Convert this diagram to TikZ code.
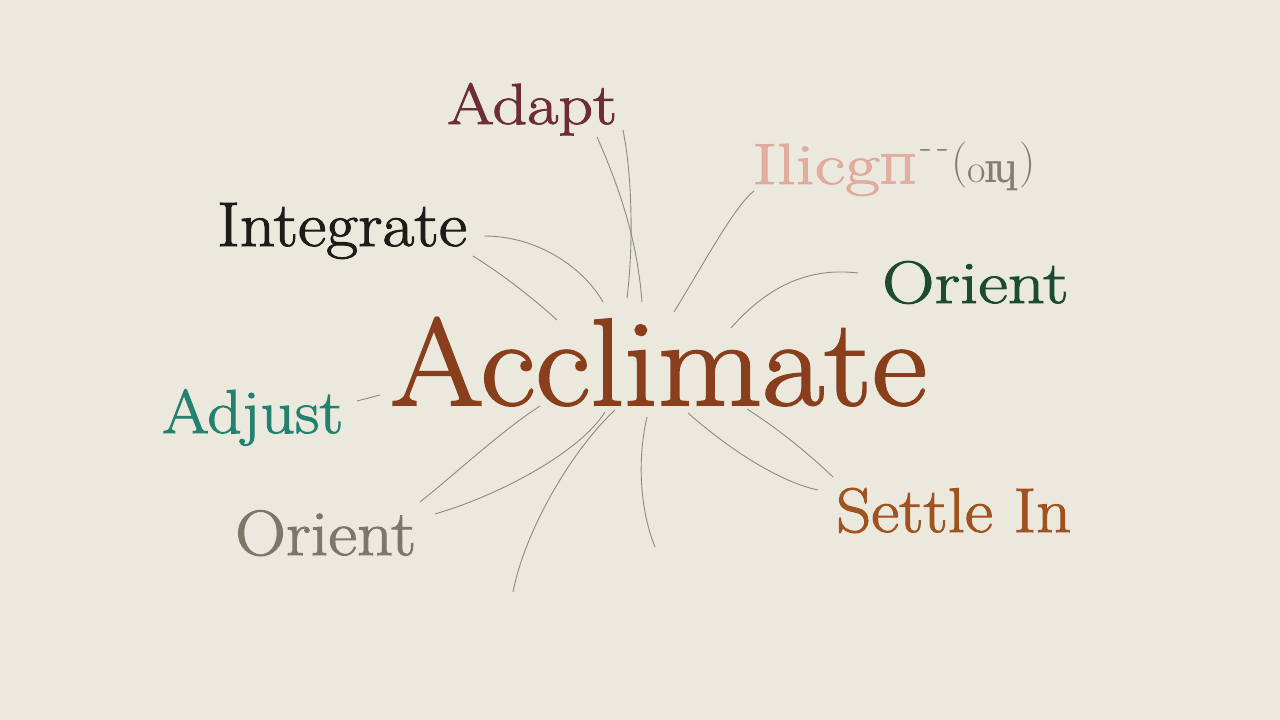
\documentclass[tikz,border=0pt]{standalone}
\usepackage{fontspec}
\usepackage{xcolor}
\usepackage{tikz}
\usetikzlibrary{calc}
\setmainfont{Latin Modern Roman}
\newfontfamily\wordfont{Latin Modern Roman}[FakeBold=1.6]
\newfontfamily\ipafont{DejaVu Serif}
\definecolor{paper}{RGB}{235,232,222}
\definecolor{hubbrown}{RGB}{138,63,28}
\definecolor{adaptred}{RGB}{110,43,56}
\definecolor{integblack}{RGB}{28,28,24}
\definecolor{orientgreen}{RGB}{29,74,51}
\definecolor{adjustteal}{RGB}{35,130,111}
\definecolor{orientgray}{RGB}{123,120,106}
\definecolor{settlebrown}{RGB}{160,82,31}
\definecolor{glitchpink}{RGB}{224,165,150}
\definecolor{glitchgray}{RGB}{130,126,118}
\definecolor{linegray}{RGB}{140,138,132}

\begin{document}
\begin{tikzpicture}[x=1pt,y=-1pt,
	every node/.style={inner sep=0pt,anchor=base west},
	word/.style 2 args={font=\wordfont\addfontfeatures{FakeStretch=#2}\fontsize{#1}{#1}\selectfont},
	link/.style={draw=linegray,line width=0.9pt}]
	\fill[paper] (0,0) rectangle (1280,720);
	\useasboundingbox (0,0) rectangle (1280,720);
	
	\node [word={124}{1.09},text=hubbrown] (acclimate) at (390,405) {Acclimate};
	\node [word={58}{1.17},text=adaptred] (adapt) at (447,124) {Adapt};
	\node [word={63}{1.10},text=integblack] (integrate) at (217,246) {Integrate};
	\node [word={60}{1.21},text=orientgreen] (orientR) at (882,303) {Orient};
	\node [word={62}{1.09},text=adjustteal] (adjust) at (162,433) {Adjust};
	\node [word={64}{1.10},text=orientgray] (orientL) at (235,555) {Orient};
	\node [word={63}{1.09},text=settlebrown] (settle) at (836,532) {Settle In};
	\node [word={58}{1.30},text=glitchpink,opacity=.85] (glitch) at (752,184) {Ilicg{\ipafont π}};
	\node [text=glitchgray] (glitchtag) at (920,182)
		{\raisebox{24pt}{\fontsize{38}{38}\selectfont -\,-}\kern2pt\raisebox{6pt}{\fontsize{46}{46}\selectfont(}{\fontsize{40}{40}\selectfont o\kern-2pt{\ipafont ɪ\kern-3pt ɥ}}\raisebox{6pt}{\fontsize{46}{46}\selectfont)}};
	
	% ends of the threads
	\coordinate [] (A1) at (597,137);
	\coordinate [] (A2) at (623,130);
	\coordinate [] (I1) at (484,236);
	\coordinate [] (I2) at (473,256);
	\coordinate [] (G1) at (754,191);
	\coordinate [] (O1) at (858,273);
	\coordinate [] (J1) at (357,401);
	\coordinate [] (L1) at (420,502);
	\coordinate [] (L2) at (435,514);
	\coordinate [] (L3) at (513,592);
	\coordinate [] (L4) at (655,547);
	\coordinate [] (S1) at (818,490);
	\coordinate [] (S2) at (833,477);
	
	\coordinate [] (hA1) at (642,302);
	\coordinate [] (hA2) at (627,298);
	\coordinate [] (hI1) at (603,302);
	\coordinate [] (hI2) at (557,320);
	\coordinate [] (hG1) at (674,312);
	\coordinate [] (hO1) at (731,328);
	\coordinate [] (hJ1) at (380,395);
	\coordinate [] (hL1) at (540,406);
	\coordinate [] (hL2) at (605,412);
	\coordinate [] (hL3) at (615,410);
	\coordinate [] (hL4) at (647,417);
	\coordinate [] (hS1) at (688,413);
	\coordinate [] (hS2) at (747,409);
	
	\draw[link] (A1) .. controls (625,200) and (638,250) .. (hA1);
	\draw[link] (A2) .. controls (633,180) and (633,250) .. (hA2);
	\draw[link] (I1) .. controls (540,236) and (585,270) .. (hI1);
	\draw[link] (I2) .. controls (505,276) and (535,300) .. (hI2);
	\draw[link] (G1) .. controls (735,205) and (700,270) .. (hG1);
	\draw[link] (O1) .. controls (800,266) and (760,295) .. (hO1);
	\draw[link] (J1) -- (hJ1);
	\draw[link] (L1) .. controls (460,470) and (500,432) .. (hL1);
	\draw[link] (L2) .. controls (500,495) and (580,452) .. (hL2);
	\draw[link] (L3) .. controls (525,530) and (572,450) .. (hL3);
	\draw[link] (L4) .. controls (640,510) and (637,460) .. (hL4);
	\draw[link] (S1) .. controls (780,482) and (730,450) .. (hS1);
	\draw[link] (S2) .. controls (810,455) and (780,430) .. (hS2);
	
\end{tikzpicture}
\end{document}
